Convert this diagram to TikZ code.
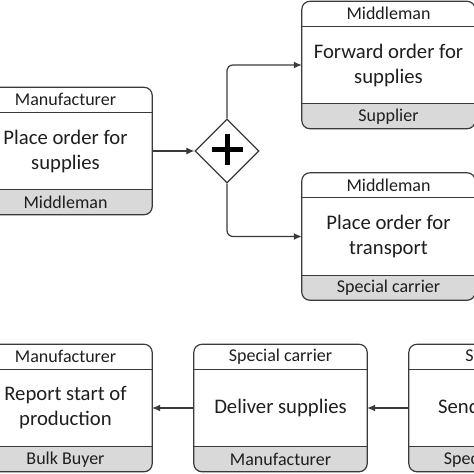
\documentclass[tikz,border=0pt]{standalone}
\usepackage{fontspec}
\setmainfont{Carlito}
\usetikzlibrary{shapes.geometric,arrows.meta}

\definecolor{boxline}{HTML}{3A3A3A}
\definecolor{footgray}{HTML}{D9D9D9}
\definecolor{textdark}{HTML}{1E1E1E}

\tikzset{
  taskbox/.style={rectangle, minimum width=173pt, minimum height=127pt, inner sep=0pt},
  headtext/.style={font=\fontsize{18}{22}\selectfont, text=textdark, inner sep=0pt},
  bodytext/.style={font=\fontsize{20.7}{25}\selectfont, text=textdark, align=center, inner sep=0pt},
  flow/.style={draw=boxline, line width=1.2pt, -{Latex[length=8pt,width=7pt]}},
  gateway/.style={diamond, draw=boxline, line width=1.2pt, fill=white, minimum width=64pt, minimum height=64pt, inner sep=0pt}
}

% name, x, y, header, body, footer
\newcommand\task[6]{%
  \node [taskbox] (#1) at (#2,#3) {};
  \begin{scope}
    \clip [rounded corners=8pt] (#1.south west) rectangle (#1.north east);
    \fill [footgray] (#1.south west) rectangle ([yshift=25pt]#1.south east);
  \end{scope}
  \draw [boxline, line width=1.2pt] ([yshift=-25pt]#1.north west) -- ([yshift=-25pt]#1.north east);
  \draw [boxline, line width=1.2pt] ([yshift=25pt]#1.south west) -- ([yshift=25pt]#1.south east);
  \draw [boxline, line width=1.2pt, rounded corners=8pt] (#1.south west) rectangle (#1.north east);
  \node [headtext] (#1-head) at ([yshift=-12.5pt]#1.north) {#4};
  \node [bodytext] (#1-body) at (#1.center) {#5};
  \node [headtext] (#1-foot) at ([yshift=12.5pt]#1.south) {#6};
}

\begin{document}
\begin{tikzpicture}[x=1pt, y=-1pt]
        \useasboundingbox (0,0) rectangle (474,474);
        \clip (0,0) rectangle (474,474);

        \task{place}{65.5}{151}{Manufacturer}{Place order for\\supplies}{Middleman}
        \task{forward}{388.5}{65}{Middleman}{Forward order for\\supplies}{Supplier}
        \task{transport}{388.5}{236.5}{Middleman}{Place order for\\transport}{Special carrier}

        \task{report}{65.5}{408}{Manufacturer}{Report start of\\production}{Bulk Buyer}
        \task{deliver}{280.5}{408}{Special carrier}{Deliver supplies}{Manufacturer}
        \task{send}{495.5}{408}{Supplier}{Send supplies}{Special carrier}

        \node [gateway] (split) at (227,151) {};
        \draw [line width=5pt] ([xshift=-15.5pt,yshift=2pt]split.center) -- ([xshift=15.5pt,yshift=2pt]split.center);
        \draw [line width=5pt] ([yshift=17.5pt]split.center) -- ([yshift=-13.5pt]split.center);

        \draw [flow] (place) -- (split);
        \draw [flow, rounded corners=6pt] (split.north) |- (forward.west);
        \draw [flow, rounded corners=6pt] (split.south) |- (transport.west);

        \draw [flow] (send) -- (deliver);
        \draw [flow] (deliver) -- (report);
      \end{tikzpicture}
\end{document}
